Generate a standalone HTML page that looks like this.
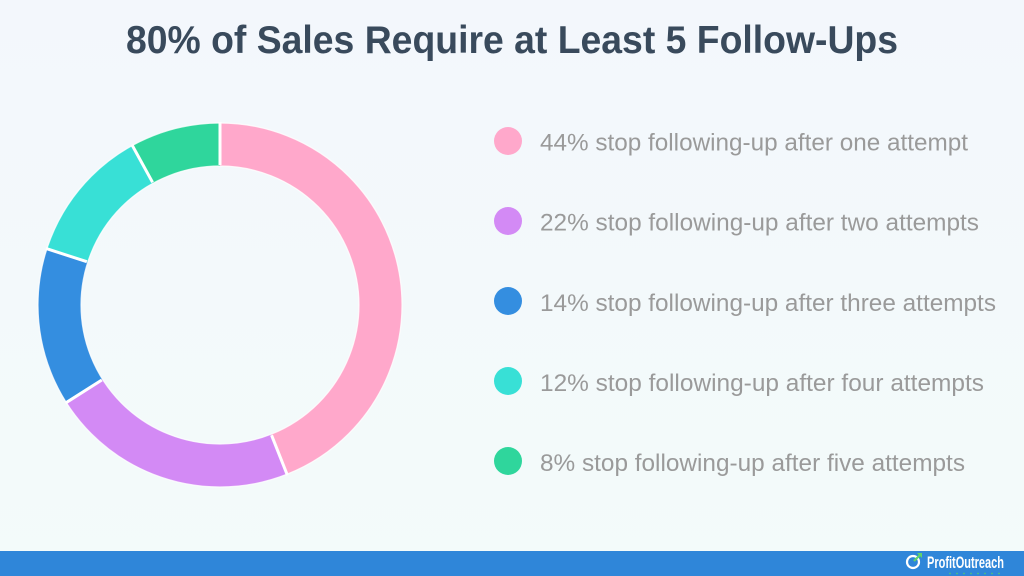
<!DOCTYPE html>
<html><head><meta charset="utf-8"><style>
html,body{margin:0;padding:0;width:1024px;height:576px;overflow:hidden;}
svg{display:block;}
</style></head><body>
<svg width="1024" height="576" viewBox="0 0 1024 576" xmlns="http://www.w3.org/2000/svg">
<defs>
<linearGradient id="bg" x1="0" y1="0" x2="0" y2="1">
<stop offset="0" stop-color="#f3f7fc"/>
<stop offset="1" stop-color="#f3fbfa"/>
</linearGradient>
</defs>
<rect x="0" y="0" width="1024" height="576" fill="url(#bg)"/>
<text x="126" y="53" font-family="Liberation Sans, sans-serif" font-weight="bold" font-size="39" fill="#394a5c" textLength="772" lengthAdjust="spacingAndGlyphs">80% of Sales Require at Least 5 Follow-Ups</text>

<g fill="none" stroke-width="43" transform="rotate(-90 220 305)">
<circle cx="220" cy="305" r="160.5" stroke="#ffa8cb" stroke-dasharray="443.72 1008.45" stroke-dashoffset="0"/>
<circle cx="220" cy="305" r="160.5" stroke="#d38af5" stroke-dasharray="221.86 1008.45" stroke-dashoffset="-443.72"/>
<circle cx="220" cy="305" r="160.5" stroke="#348ee0" stroke-dasharray="141.18 1008.45" stroke-dashoffset="-665.58"/>
<circle cx="220" cy="305" r="160.5" stroke="#38e0d6" stroke-dasharray="121.01 1008.45" stroke-dashoffset="-806.76"/>
<circle cx="220" cy="305" r="160.5" stroke="#2fd69c" stroke-dasharray="80.68 1008.45" stroke-dashoffset="-927.77"/>
</g>
<circle cx="220" cy="305" r="182" fill="none" stroke="#ffffff" stroke-width="1.2" opacity="0.8"/>
<circle cx="220" cy="305" r="139" fill="none" stroke="#ffffff" stroke-width="1.2" opacity="0.8"/>
<g stroke="#ffffff" stroke-width="3">
<line x1="220" y1="165" x2="220" y2="122" transform="rotate(0 220 305)"/>
<line x1="220" y1="165" x2="220" y2="122" transform="rotate(158.4 220 305)"/>
<line x1="220" y1="165" x2="220" y2="122" transform="rotate(237.6 220 305)"/>
<line x1="220" y1="165" x2="220" y2="122" transform="rotate(288 220 305)"/>
<line x1="220" y1="165" x2="220" y2="122" transform="rotate(331.2 220 305)"/>
</g>

<g font-family="Liberation Sans, sans-serif" font-size="24.5" fill="#9a9a9a">
<circle cx="508" cy="141" r="14" fill="#ffa8cb"/>
<text x="540" y="150.5" textLength="428" lengthAdjust="spacingAndGlyphs">44% stop following-up after one attempt</text>
<circle cx="508" cy="221" r="14" fill="#d38af5"/>
<text x="540" y="230.7" textLength="439" lengthAdjust="spacingAndGlyphs">22% stop following-up after two attempts</text>
<circle cx="508" cy="301" r="14" fill="#348ee0"/>
<text x="540" y="311" textLength="456" lengthAdjust="spacingAndGlyphs">14% stop following-up after three attempts</text>
<circle cx="508" cy="381" r="14" fill="#38e0d6"/>
<text x="540" y="391" textLength="444" lengthAdjust="spacingAndGlyphs">12% stop following-up after four attempts</text>
<circle cx="508" cy="461" r="14" fill="#2fd69c"/>
<text x="540" y="471" textLength="425" lengthAdjust="spacingAndGlyphs">8% stop following-up after five attempts</text>
</g>

<rect x="0" y="551" width="1024" height="25" fill="#2f86d9"/>
<circle cx="913" cy="562" r="6" fill="none" stroke="#ffffff" stroke-width="2.2"/>
<path d="M914 561 L921 554" stroke="#5fd36a" stroke-width="2.2"/>
<path d="M917 553 L922 553 L922 558 Z" fill="#5fd36a"/>
<text x="927" y="568" font-family="Liberation Sans, sans-serif" font-weight="bold" font-size="17" fill="#ffffff" textLength="77" lengthAdjust="spacingAndGlyphs">ProfitOutreach</text>
<g fill="#4fc27a">
<circle cx="950" cy="573.5" r="0.9"/><circle cx="957" cy="573.5" r="0.9"/><circle cx="964" cy="573.5" r="0.9"/>
<circle cx="971" cy="573.5" r="0.9"/><circle cx="978" cy="573.5" r="0.9"/><circle cx="985" cy="573.5" r="0.9"/>
<circle cx="992" cy="573.5" r="0.9"/><circle cx="999" cy="573.5" r="0.9"/>
</g>
</svg>
</body></html>
